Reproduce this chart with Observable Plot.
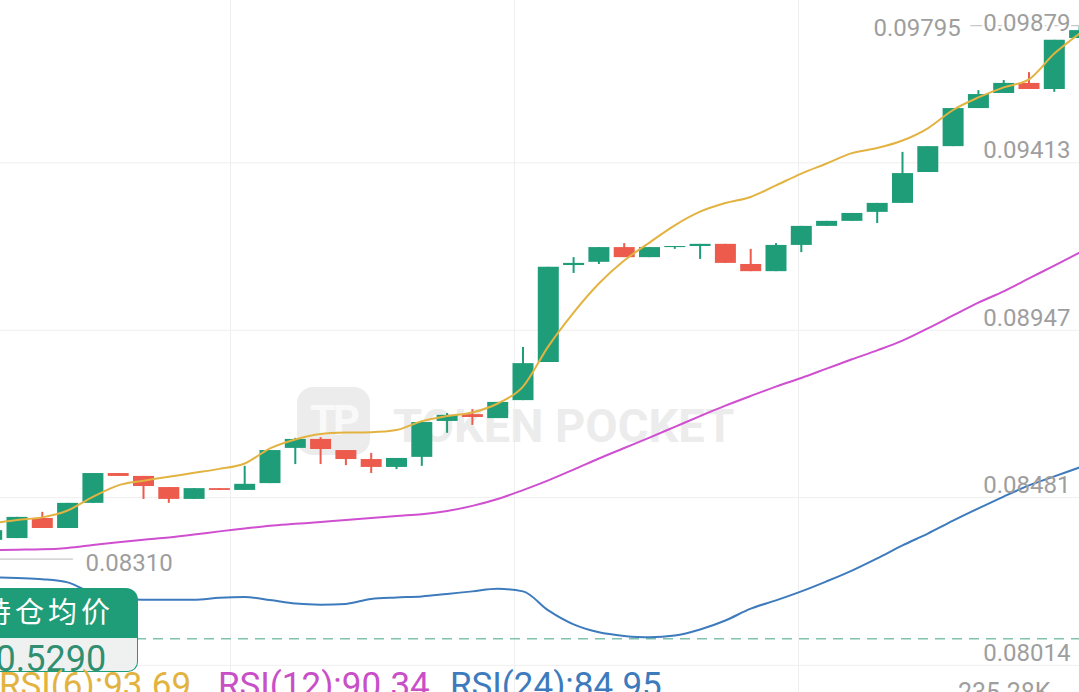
<!DOCTYPE html>
<html><head><meta charset="utf-8">
<script src="https://cdn.jsdelivr.net/npm/d3@7"></script>
<script src="https://cdn.jsdelivr.net/npm/@observablehq/plot@0.6"></script>
<style>
html,body{margin:0;padding:0;background:#fff;overflow:hidden;width:1079px;height:692px;}
#wrap{position:relative;width:1079px;height:692px;overflow:hidden;font-family:Roboto,"Noto Sans",sans-serif;}
#wm{position:absolute;left:0;top:0;width:1079px;height:692px;z-index:0;}
#wm .logo{position:absolute;left:297px;top:387px;width:73px;height:68px;border-radius:16px;background:#ececec;color:#f9f9f9;font:700 42px Roboto,sans-serif;line-height:68px;text-align:center;letter-spacing:-3px;}
#wm .name{position:absolute;left:393px;top:402px;font:700 47px Roboto,sans-serif;line-height:47px;color:#ececec;white-space:nowrap;}
#chart{position:absolute;left:0;top:0;z-index:1;}
#box1{position:absolute;left:-12px;top:588px;width:150px;height:50px;background:#1f9d78;border-radius:0 12px 0 0;z-index:2;overflow:hidden;}
#box1 span{position:absolute;left:-6px;top:-3px;font:29px "Noto Sans CJK SC",sans-serif;line-height:50px;color:#fff;letter-spacing:4px;white-space:nowrap;}
#box2{position:absolute;left:-12px;top:638px;width:148px;height:33px;background:#eff1f0;border:1.5px solid #1f9d78;border-top:none;border-radius:0 0 10px 0;z-index:2;overflow:hidden;}
#box2 span{position:absolute;left:6.5px;top:3px;font:36px Roboto,sans-serif;line-height:36px;color:#2f8f70;white-space:nowrap;}
.leg{position:absolute;top:668px;font:35px Roboto,sans-serif;line-height:35px;white-space:nowrap;z-index:2;}
.vol{position:absolute;left:958px;top:680px;font:25px Roboto,sans-serif;line-height:25px;color:#9e9e9e;white-space:nowrap;z-index:2;}
</style></head>
<body>
<div id="wrap">
  <div id="wm"><div class="logo">TP</div><div class="name">TOKEN POCKET</div></div>
  <div id="chart"></div>
  <div id="box1"><span>持仓均价</span></div>
  <div id="box2"><span>0.5290</span></div>
  <div class="leg" style="left:-1px;color:#e3b341">RSI(6):93.69</div>
  <div class="leg" style="left:218px;color:#c84fc8">RSI(12):90.34</div>
  <div class="leg" style="left:450px;color:#3d7bbd">RSI(24):84.95</div>
  <div class="vol">235.28K</div>
</div>
<script>
// candle slots (-1 is the partly hidden one at the left edge)
const slots = d3.range(-1, 43);
const opens = [0.08362,0.08367,0.08423,0.08395,0.08465,0.08548,0.08540,0.08509,0.08476,0.08506,0.08501,0.08520,0.08618,0.08643,0.08612,0.08587,0.08565,0.08593,0.08693,0.08712,0.08701,0.08751,0.08857,0.09127,0.09136,0.09177,0.09149,0.09177,0.09180,0.09186,0.09130,0.09110,0.09183,0.09236,0.09250,0.09275,0.09300,0.09386,0.09458,0.09564,0.09606,0.09634,0.09617,0.09759];
const highs = [0.08389,0.08426,0.08440,0.08465,0.08548,0.08548,0.08540,0.08509,0.08506,0.08506,0.08568,0.08612,0.08646,0.08648,0.08612,0.08604,0.08590,0.08690,0.08715,0.08726,0.08746,0.08899,0.09122,0.09149,0.09177,0.09188,0.09177,0.09180,0.09186,0.09186,0.09172,0.09188,0.09236,0.09250,0.09272,0.09300,0.09442,0.09458,0.09564,0.09614,0.09642,0.09664,0.09754,0.09795];
const lows = [0.08310,0.08367,0.08395,0.08395,0.08465,0.08540,0.08476,0.08465,0.08476,0.08501,0.08501,0.08520,0.08573,0.08573,0.08570,0.08548,0.08559,0.08568,0.08660,0.08682,0.08701,0.08751,0.08857,0.09105,0.09130,0.09149,0.09149,0.09172,0.09144,0.09133,0.09110,0.09110,0.09163,0.09236,0.09250,0.09244,0.09300,0.09386,0.09458,0.09564,0.09606,0.09617,0.09609,0.09759];
const closes = [0.08389,0.08426,0.08395,0.08465,0.08548,0.08540,0.08512,0.08476,0.08506,0.08501,0.08518,0.08612,0.08643,0.08615,0.08587,0.08565,0.08590,0.08690,0.08710,0.08704,0.08746,0.08854,0.09122,0.09133,0.09177,0.09149,0.09177,0.09180,0.09186,0.09133,0.09110,0.09183,0.09236,0.09250,0.09272,0.09300,0.09383,0.09458,0.09564,0.09603,0.09634,0.09617,0.09754,0.09781];
const maShort = [0.08409,0.08419,0.08426,0.08445,0.08483,0.08515,0.08528,0.08539,0.08550,0.08561,0.08576,0.08618,0.08643,0.08658,0.08662,0.08663,0.08669,0.08694,0.08708,0.08718,0.08743,0.08790,0.08902,0.08996,0.09077,0.09141,0.09191,0.09239,0.09277,0.09301,0.09318,0.09350,0.09383,0.09411,0.09440,0.09454,0.09475,0.09509,0.09560,0.09595,0.09623,0.09645,0.09717,0.09773];
const maMid = [0.08335,0.08336,0.08337,0.08341,0.08349,0.08357,0.08364,0.08370,0.08378,0.08387,0.08395,0.08403,0.08408,0.08413,0.08419,0.08424,0.08430,0.08435,0.08444,0.08458,0.08477,0.08502,0.08529,0.08559,0.08590,0.08619,0.08648,0.08678,0.08708,0.08737,0.08764,0.08790,0.08814,0.08840,0.08866,0.08891,0.08918,0.08952,0.08988,0.09024,0.09055,0.09091,0.09127,0.09163];
const maLong = [0.08259,0.08257,0.08254,0.08245,0.08214,0.08199,0.08197,0.08197,0.08197,0.08202,0.08204,0.08196,0.08186,0.08183,0.08185,0.08199,0.08203,0.08206,0.08213,0.08220,0.08227,0.08220,0.08167,0.08128,0.08106,0.08096,0.08092,0.08097,0.08114,0.08139,0.08172,0.08195,0.08220,0.08248,0.08278,0.08312,0.08348,0.08381,0.08417,0.08451,0.08484,0.08515,0.08540,0.08565];
const priceTicks = [0.08014,0.08481,0.08947,0.09413];
const topTick = [0.09879];
const timeTicks = [8.44,19.66,30.89];
const avgPrice = 0.08088;

const GREEN = "#1f9d78", RED = "#ec5b4b";
const data = slots.map((s,k)=>({s,o:opens[k],h:highs[k],l:lows[k],c:closes[k],m1:maShort[k],m2:maMid[k],m3:maLong[k]}));
const upC = data.filter(d=>d.c>=d.o), dnC = data.filter(d=>d.c<d.o);
const maxD = data.reduce((a,b)=>b.h>a.h?b:a), minD = data.reduce((a,b)=>b.l<a.l?b:a);
const lab = {fontSize:24, fill:"#9e9e9e", fontFamily:"Roboto, sans-serif"};

const chart = Plot.plot({
  width:1079, height:692, margin:0,
  x:{domain:[-0.652,41.996], axis:null},
  y:{domain:[0.079385,0.098648], axis:null},
  style:{background:"transparent", overflow:"hidden"},
  marks:[
    Plot.ruleY(priceTicks.concat(topTick), {stroke:"#efefef", strokeWidth:1}),
    Plot.ruleX(timeTicks, {stroke:"#efefef", strokeWidth:1}),
    Plot.ruleY([avgPrice], {stroke:"#80c2ad", strokeWidth:1.5, strokeDasharray:"10,7"}),
    Plot.ruleX(upC, {x:"s", y1:"l", y2:"h", stroke:GREEN, strokeWidth:2}),
    Plot.ruleX(dnC, {x:"s", y1:"l", y2:"h", stroke:RED, strokeWidth:2}),
    Plot.ruleX(upC, {x:"s", y1:"o", y2:"c", stroke:GREEN, strokeWidth:21}),
    Plot.ruleX(dnC, {x:"s", y1:"o", y2:"c", stroke:RED, strokeWidth:21}),
    Plot.line(data, {x:"s", y:"m3", stroke:"#3d7bbd", strokeWidth:2, curve:"monotone-x"}),
    Plot.line(data, {x:"s", y:"m2", stroke:"#cf4fd0", strokeWidth:2, curve:"monotone-x"}),
    Plot.line(data, {x:"s", y:"m1", stroke:"#e3b341", strokeWidth:2, curve:"monotone-x"}),
    Plot.ruleY([maxD], {y:"h", x1:d=>d.s-4.3, x2:"s", stroke:"#c8c8c8", strokeWidth:1.2}),
    Plot.text([maxD], {x:d=>d.s-4.3, y:"h", text:d=>d.h.toFixed(5), textAnchor:"end", dx:-10, dy:3, ...lab}),
    Plot.ruleY([minD], {y:"l", x1:"s", x2:d=>d.s+3.23, stroke:"#c8c8c8", strokeWidth:1.2}),
    Plot.text([minD], {x:d=>d.s+3.23, y:"l", text:d=>d.l.toFixed(5), textAnchor:"start", dx:12, dy:4, ...lab}),
    Plot.text(priceTicks, {y:d=>d, text:d=>d.toFixed(5), frameAnchor:"right", textAnchor:"end", dx:-9, dy:-12, ...lab}),
    Plot.text(topTick, {y:d=>d, text:d=>d.toFixed(5), frameAnchor:"right", textAnchor:"end", dx:-9, dy:28, stroke:"#ffffff", strokeWidth:5, ...lab})
  ]
});
document.getElementById("chart").appendChild(chart);
</script>
</body></html>
